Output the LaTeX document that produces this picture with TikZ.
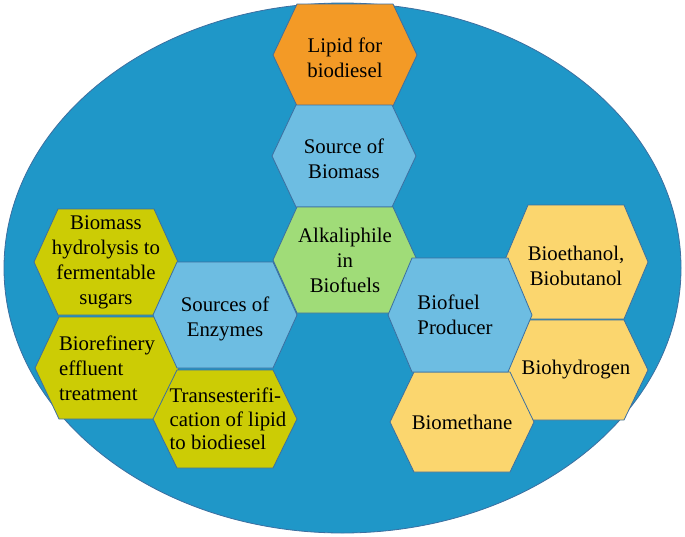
\documentclass[tikz,border=0pt]{standalone}
\usepackage{fontspec}
\setmainfont{Liberation Serif}
\usetikzlibrary{shapes.geometric}

\definecolor{discblue}{HTML}{1F97C8}
\definecolor{rimblue}{HTML}{3C6FA0}
\definecolor{skyblue}{HTML}{6DBDE2}
\definecolor{leafgreen}{HTML}{A0DC78}
\definecolor{oilorange}{HTML}{F39A26}
\definecolor{olive}{HTML}{CCCC05}
\definecolor{gold}{HTML}{FBD66E}

% one hexagon with its text: [half height]{name}{centre}{fill}{node options}{text}
\newcommand{\hexcell}[6][51]{%
  \begin{scope}[shift={(#3)}]
    \draw[hexside, fill=#4] (-72,0) -- (-48,-#1) -- (48,-#1) -- (72,0) -- (48,#1) -- (-48,#1) -- cycle;
    \node[celltext, #5] (#2) at (0,0) {#6};
  \end{scope}}

\begin{document}
\begin{tikzpicture}[x=1pt, y=-1pt,
    hexside/.style={draw=rimblue, line width=0.8pt, line join=miter},
    celltext/.style={align=center, inner sep=0pt, font=\fontsize{20.8}{25}\selectfont}]
    \useasboundingbox (0,0) rectangle (685,536);

    \node[ellipse, draw=rimblue, fill=discblue, line width=0.8pt, inner sep=0pt,
          minimum width=677pt, minimum height=530pt] (disc) at (342.5,268) {};

    % middle column
    \hexcell{lipid}{345,55}{oilorange}{yshift=-3pt}{Lipid for\\biodiesel}
    \hexcell{biomass}{344,156}{skyblue}{yshift=-3pt}{Source of\\Biomass}
    \hexcell[53]{alkali}{345,260}{leafgreen}{}{Alkaliphile\\in\\Biofuels}

    % enzymes side
    \hexcell[53]{hydrolysis}{106,262}{olive}{}{Biomass\\hydrolysis to\\fermentable\\sugars}
    \hexcell{effluent}{107,368}{olive}{align=left}{Biorefinery\\effluent\\treatment}
    \hexcell[49]{transest}{225,419}{olive}{align=left, xshift=3pt, font=\fontsize{20.8}{23.5}\selectfont}{Transesterifi-\\cation of lipid\\to biodiesel}
    \hexcell[53]{enzymes}{225,315}{skyblue}{yshift=-4pt}{Sources of\\Enzymes}

    % fuel side
    \hexcell[57]{ethanol}{576,262}{gold}{yshift=-4pt}{Bioethanol,\\Biobutanol}
    \hexcell[50]{hydrogen}{576,370}{gold}{}{Biohydrogen}
    \hexcell[50]{methane}{462,422}{gold}{}{Biomethane}
    \hexcell[57]{producer}{460,315}{skyblue}{align=left, xshift=-5pt}{Biofuel\\Producer}
\end{tikzpicture}
\end{document}
